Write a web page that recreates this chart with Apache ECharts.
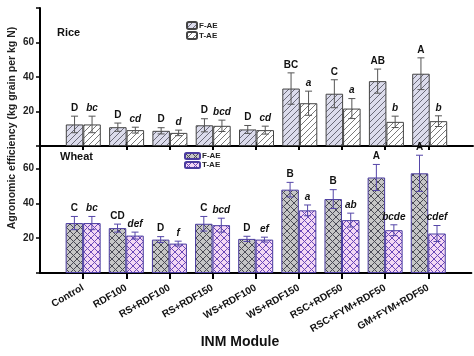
<!DOCTYPE html>
<html><head><meta charset="utf-8">
<script src="https://cdn.jsdelivr.net/npm/echarts@6/dist/echarts.min.js"></script>
<style>html,body{margin:0;padding:0;background:#fff}#c{width:474px;height:356px}</style>
</head><body><div id="c"></div>
<script>
const categories = ['Control','RDF100','RS+RDF100','RS+RDF150','WS+RDF100','WS+RDF150','RSC+RDF50','RSC+FYM+RDF50','GM+FYM+RDF50'];
const riceFAE = [12.5, 10.9, 8.8, 12.0, 9.6, 33.3, 30.3, 37.6, 41.9];
const riceFAEErr = [4.8, 2.4, 1.8, 3.8, 2.3, 9.1, 8.1, 7.0, 9.2];
const riceTAE = [12.5, 9.2, 7.6, 11.7, 9.2, 24.8, 21.7, 14.0, 14.4];
const riceTAEErr = [4.8, 1.7, 1.6, 3.3, 2.3, 7.0, 5.8, 3.3, 3.1];
const riceFLetters = ['D','D','D','D','D','BC','C','AB','A'];
const riceTLetters = ['bc','cd','d','bcd','cd','a','a','b','b'];
const wheatFAE = [28.7, 25.8, 19.2, 28.3, 19.6, 47.9, 42.5, 54.9, 57.3];
const wheatFAEErr = [3.8, 2.3, 1.7, 4.2, 1.5, 4.2, 5.4, 7.5, 10.4];
const wheatTAE = [28.7, 21.5, 16.9, 27.5, 19.2, 36.0, 30.4, 24.6, 22.7];
const wheatTAEErr = [3.8, 2.0, 1.4, 4.0, 1.4, 3.1, 4.0, 3.1, 4.6];
const wheatFLetters = ['C','CD','D','C','D','B','B','A','A'];
const wheatTLetters = ['bc','def','f','bcd','ef','a','ab','bcde','cdef'];
const yTickLabels = [20, 40, 60];

const FONT = '"Liberation Sans", Arial, sans-serif';
const padded = ['', ...categories, ''];
const pad = arr => [null, ...arr, null];

function hatch(bg, line, cross, s) {
  const c = document.createElement('canvas'); c.width = s; c.height = s;
  const g = c.getContext('2d'); g.fillStyle = bg; g.fillRect(0,0,s,s);
  g.strokeStyle = line; g.lineWidth = 1;
  g.beginPath();
  g.moveTo(0,s); g.lineTo(s,0); g.moveTo(-1,1); g.lineTo(1,-1); g.moveTo(s-1,s+1); g.lineTo(s+1,s-1);
  if (cross) { g.moveTo(0,0); g.lineTo(s,s); g.moveTo(-1,s-1); g.lineTo(1,s+1); g.moveTo(s-1,-1); g.lineTo(s+1,1); }
  g.stroke();
  return {image: c, repeat: 'repeat'};
}
const riceFFill = hatch('#dcdcec', '#6a6a78', false, 6);
const riceTFill = hatch('#ffffff', '#7a7a7a', false, 6);
const wheatFFill = hatch('#c6c6c6', '#4a4a55', true, 7);
const wheatTFill = hatch('#f4d8f4', '#6a48b8', true, 7);

const BW = 17.5;
function errSeries(name, vals, errs, letters, offset, grid, color, italic) {
  return {
    type: 'custom', name: name, xAxisIndex: grid === 0 ? 0 : 1, yAxisIndex: grid, z: 10,
    data: vals.map((v, i) => [i + 1, v, errs[i]]),
    renderItem: function (params, api) {
      const idx = api.value(0), v = api.value(1), e = api.value(2);
      const top = api.coord([idx, v + e]);
      const bot = api.coord([idx, v - e]);
      const x = top[0] + offset;
      const cw = 3.5;
      return {type: 'group', children: [
        {type: 'line', shape: {x1: x, y1: top[1], x2: x, y2: bot[1]}, style: {stroke: color, lineWidth: 1}},
        {type: 'line', shape: {x1: x - cw, y1: top[1], x2: x + cw, y2: top[1]}, style: {stroke: color, lineWidth: 1}},
        {type: 'line', shape: {x1: x - cw, y1: bot[1], x2: x + cw, y2: bot[1]}, style: {stroke: color, lineWidth: 1}},
        {type: 'text', x: x, y: top[1] - 3, style: {text: letters[params.dataIndex], fill: '#111',
          font: (italic ? 'italic ' : '') + 'bold 10px ' + FONT, align: 'center', verticalAlign: 'bottom'}}
      ]};
    }
  };
}

const chart = echarts.init(document.getElementById('c'), null, {renderer: 'canvas'});
const yLabel = {fontSize: 10, fontWeight: 'bold', color: '#222', fontFamily: FONT, margin: 6,
  formatter: v => yTickLabels.indexOf(v) >= 0 ? String(v) : ''};
const axLine = {show: true, lineStyle: {color: '#000', width: 2}};
chart.setOption({
  animation: false,
  grid: [
    {left: 40, top: 8, width: 433, height: 138},
    {left: 40, top: 146, width: 433, height: 127}
  ],
  xAxis: [
    {type: 'category', gridIndex: 0, data: padded, boundaryGap: false, axisLine: axLine,
     axisTick: {inside: true, length: 4, lineStyle: {color: '#000', width: 2}, interval: i => i > 0 && i < 10},
     axisLabel: {show: false}, splitLine: {show: false}},
    {type: 'category', gridIndex: 1, data: padded, boundaryGap: false, axisLine: axLine,
     axisTick: {length: 6, lineStyle: {color: '#000', width: 2}, interval: i => i > 0 && i < 10},
     axisLabel: {interval: 0, rotate: 30, fontSize: 10, fontWeight: 'bold', color: '#111', fontFamily: FONT, margin: 14},
     splitLine: {show: false}},
    {type: 'category', gridIndex: 1, position: 'top', data: padded, boundaryGap: false, axisLine: {show: false},
     axisTick: {inside: true, length: 4, lineStyle: {color: '#000', width: 2}, interval: i => i > 0 && i < 10},
     axisLabel: {show: false}, splitLine: {show: false}}
  ],
  yAxis: [
    {type: 'value', gridIndex: 0, min: 0, max: 80, interval: 20, axisLine: axLine,
     axisTick: {show: true, length: 4, lineStyle: {color: '#000', width: 1.5}}, axisLabel: yLabel, splitLine: {show: false}},
    {type: 'value', gridIndex: 1, min: 0, max: 73, interval: 20, axisLine: axLine,
     axisTick: {show: true, length: 4, lineStyle: {color: '#000', width: 1.5}}, axisLabel: yLabel, splitLine: {show: false}}
  ],
  legend: [
    {data: ['F-AE', 'T-AE'], left: 186, top: 21, orient: 'vertical', itemWidth: 10, itemHeight: 7, itemGap: 1,
     padding: 0, textStyle: {fontSize: 8, fontWeight: 'bold', color: '#222', fontFamily: FONT, padding: [0,0,0,-3]}, selectedMode: false},
    {data: ['F-AE ', 'T-AE '], left: 184, top: 152, orient: 'vertical', itemWidth: 15, itemHeight: 6, itemGap: 1,
     padding: 0, textStyle: {fontSize: 8, fontWeight: 'bold', color: '#222', fontFamily: FONT, padding: [0,0,0,-3]}, selectedMode: false,
     formatter: n => n.trim()}
  ],
  series: [
    {type: 'bar', name: 'F-AE', xAxisIndex: 0, yAxisIndex: 0, data: pad(riceFAE), barWidth: BW, barGap: '0%',
     itemStyle: {color: riceFFill, borderColor: '#444', borderWidth: 1}},
    {type: 'bar', name: 'T-AE', xAxisIndex: 0, yAxisIndex: 0, data: pad(riceTAE), barWidth: BW, barGap: '0%',
     itemStyle: {color: riceTFill, borderColor: '#444', borderWidth: 1}},
    {type: 'bar', name: 'F-AE ', xAxisIndex: 1, yAxisIndex: 1, data: pad(wheatFAE), barWidth: BW, barGap: '0%',
     itemStyle: {color: wheatFFill, borderColor: '#4b3ca0', borderWidth: 1}},
    {type: 'bar', name: 'T-AE ', xAxisIndex: 1, yAxisIndex: 1, data: pad(wheatTAE), barWidth: BW, barGap: '0%',
     itemStyle: {color: wheatTFill, borderColor: '#4b3ca0', borderWidth: 1}},
    errSeries('eRF', riceFAE, riceFAEErr, riceFLetters, -BW / 2, 0, '#555', false),
    errSeries('eRT', riceTAE, riceTAEErr, riceTLetters, BW / 2, 0, '#555', true),
    errSeries('eWF', wheatFAE, wheatFAEErr, wheatFLetters, -BW / 2, 1, '#5546a8', false),
    errSeries('eWT', wheatTAE, wheatTAEErr, wheatTLetters, BW / 2, 1, '#5546a8', true)
  ],
  graphic: [
    {type: 'text', x: 12, y: 128, rotation: Math.PI / 2,
     style: {text: 'Agronomic efficiency (kg grain per kg N)', font: 'bold 10.5px ' + FONT, fill: '#222', align: 'center', verticalAlign: 'middle'}},
    {type: 'text', x: 57, y: 33, style: {text: 'Rice', font: 'bold 11px ' + FONT, fill: '#111', verticalAlign: 'middle'}},
    {type: 'text', x: 60, y: 157, style: {text: 'Wheat', font: 'bold 11px ' + FONT, fill: '#111', verticalAlign: 'middle'}},
    {type: 'text', x: 240, y: 342, style: {text: 'INM Module', font: 'bold 14px ' + FONT, fill: '#111', align: 'center', verticalAlign: 'middle'}}
  ]
});
</script></body></html>
